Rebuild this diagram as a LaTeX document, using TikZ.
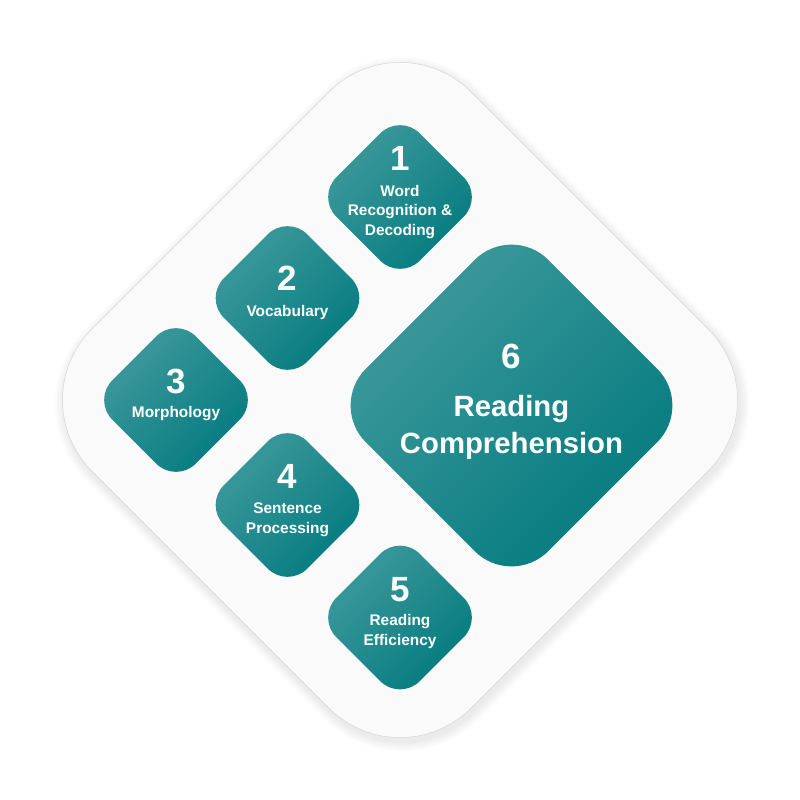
\documentclass[tikz,border=0pt]{standalone}
\usepackage{fontspec}
\setmainfont{Liberation Sans}
\definecolor{tealA}{HTML}{429B9E}
\definecolor{tealB}{HTML}{00797D}
\definecolor{panel}{HTML}{FAFAFA}
\definecolor{panelEdge}{HTML}{D6D6D6}
\begin{document}
\begin{tikzpicture}[x=1pt,y=-1pt,
  tile/.style={rectangle, rotate=45, inner sep=0pt, top color=tealA, bottom color=tealB, shading angle=45, draw=none},
  smalltile/.style={tile, minimum size=118pt, rounded corners=28pt},
  bigtile/.style={tile, minimum size=258pt, rounded corners=52pt},
  shadowlayer/.style={rectangle, rotate=45, inner sep=0pt, fill=black, fill opacity=0.009, draw=none},
  num/.style={text=white, font=\fontsize{35}{40}\selectfont\bfseries, anchor=base, inner sep=0pt},
  lbl/.style={text=white, font=\fontsize{15.4}{19.5}\selectfont\bfseries, align=center, anchor=base, inner sep=0pt},
  biglbl/.style={text=white, font=\fontsize{29.3}{37}\selectfont\bfseries, align=center, anchor=base, inner sep=0pt}]
\useasboundingbox[fill=white] (0,0) rectangle (800,800);
% soft shadow of the panel
\foreach \k in {1,...,10}{
  \node[shadowlayer, minimum size={536pt+2*\k pt}, rounded corners={100pt+\k pt}] (shadow\k) at (402,404) {};
}
\node[rectangle, rotate=45, inner sep=0pt, minimum size=536pt, rounded corners=100pt, fill=panel, draw=panelEdge, line width=0.5pt] (panel) at (400,400) {};
% tiles
\node[smalltile] (d1) at (400,197) {};
\node[smalltile] (d2) at (287.5,298) {};
\node[smalltile] (d3) at (176,400) {};
\node[smalltile] (d4) at (287.5,505) {};
\node[smalltile] (d5) at (400,617.5) {};
\node[bigtile] (d6) at (511.5,405.5) {};
% texts
\node[num] (n1) at (400,170) {1};
\node[lbl] (l1) at (400,235) {Word\\Recognition \&\\Decoding};
\node[num] (n2) at (287.5,290) {2};
\node[lbl] (l2) at (287.5,316) {Vocabulary};
\node[num] (n3) at (176,393) {3};
\node[lbl] (l3) at (176,417) {Morphology};
\node[num] (n4) at (287.5,488) {4};
\node[lbl] (l4) at (287.5,533) {Sentence\\Processing};
\node[num] (n5) at (400,601) {5};
\node[lbl] (l5) at (400,645) {Reading\\Efficiency};
\node[num] (n6) at (511.5,368) {6};
\node[biglbl] (l6) at (511.5,453) {Reading\\Comprehension};
\end{tikzpicture}
\end{document}
